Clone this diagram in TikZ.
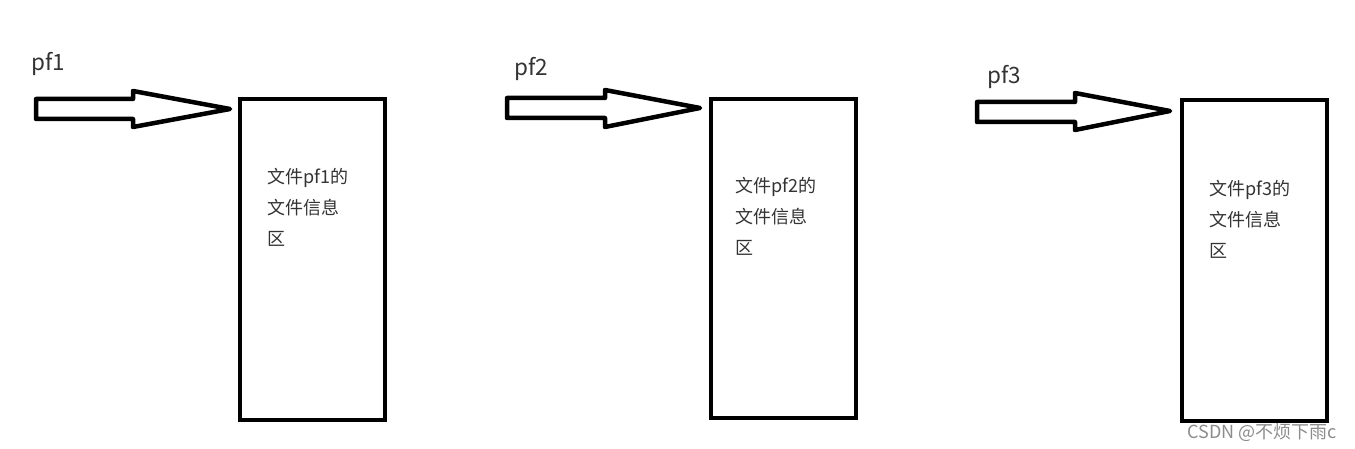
\documentclass[tikz,border=0pt]{standalone}
\usepackage{fontspec}
\setmainfont{Noto Sans CJK SC}
\begin{document}
\begin{tikzpicture}[x=1pt,y=-1pt,
  box/.style={draw=black,line width=4.5pt,anchor=north west,inner sep=0pt},
  blockarrow/.style={draw=black,line width=4.5pt,line join=round,fill=white},
  lbl/.style={text=black!80,font=\fontsize{22.5}{24}\selectfont,inner sep=0pt},
  info/.style={text=black!80,font=\fontsize{18}{31}\selectfont,align=left,anchor=north west,inner sep=0pt},
  wm/.style={text=black!45,font=\fontsize{18}{20}\selectfont,inner sep=0pt}]
\useasboundingbox (0,0) rectangle (1355,449);
% boxes
\draw[line width=4.5pt] (240,99) rectangle (385,420);
\node[box,minimum width=145pt,minimum height=321pt,draw=none] (b1) at (240,99) {};
\draw[line width=4.5pt] (711,99) rectangle (856,418);
\node[box,minimum width=145pt,minimum height=319pt,draw=none] (b2) at (711,99) {};
\draw[line width=4.5pt] (1182,100) rectangle (1327,421);
\node[box,minimum width=145pt,minimum height=321pt,draw=none] (b3) at (1182,100) {};
% arrows
\coordinate (t1) at (230,109);
\draw[blockarrow] (36,99) -- (133,99) -- (133,91) -- (t1) -- (133,127) -- (133,119) -- (36,119) -- cycle;
\coordinate (t2) at (700,108);
\draw[blockarrow] (507,98) -- (605,98) -- (605,90) -- (t2) -- (605,127) -- (605,118) -- (507,118) -- cycle;
\coordinate (t3) at (1170,111);
\draw[blockarrow] (977,102) -- (1075,102) -- (1075,93) -- (t3) -- (1075,130) -- (1075,122) -- (977,122) -- cycle;
% labels
\node[lbl] (l1) at (48,64) {pf1};
\node[lbl] (l2) at (531,69) {pf2};
\node[lbl] (l3) at (1004,77) {pf3};
% info text
\node[info] (i1) at (267,168) {文件pf1的\\文件信息\\区};
\node[info] (i2) at (735,177) {文件pf2的\\文件信息\\区};
\node[info] (i3) at (1209,180) {文件pf3的\\文件信息\\区};
% watermark
\node[wm] (w) at (1262,433) {CSDN @不烦下雨c};
\end{tikzpicture}
\end{document}
